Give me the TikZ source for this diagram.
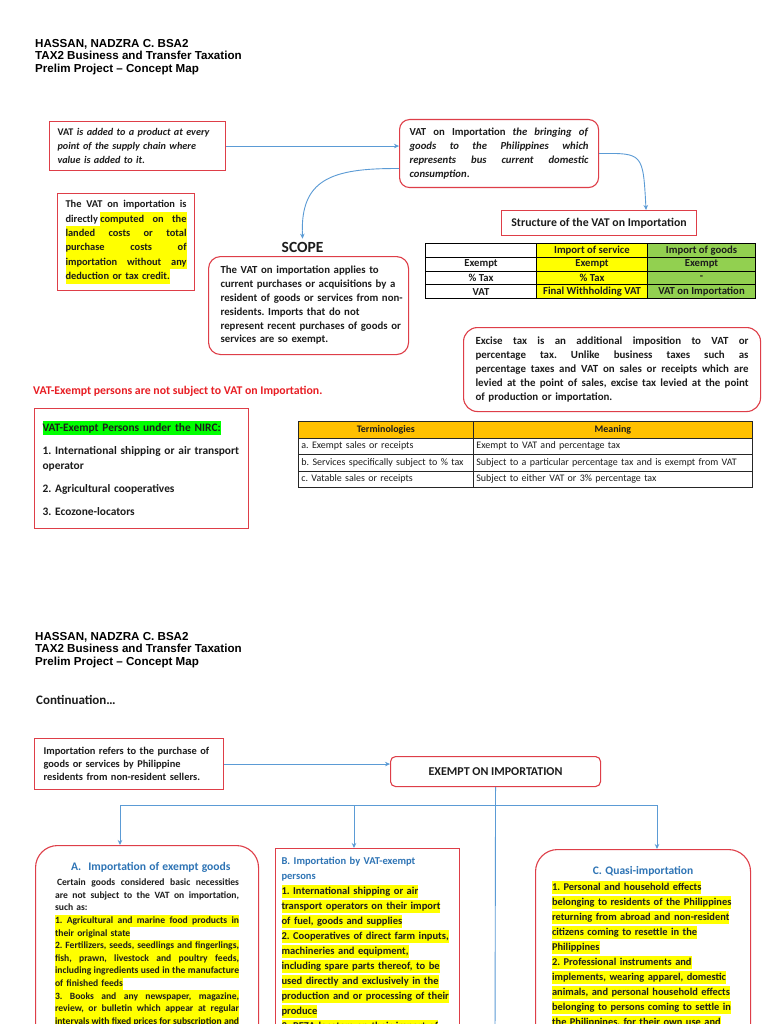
\documentclass[tikz,border=0pt]{standalone}
\usepackage{fontspec}
\setmainfont{Carlito}
\newfontfamily\arialfont{Liberation Sans}
\usetikzlibrary{arrows.meta,positioning}
\frenchspacing

\definecolor{bordred}{RGB}{222,62,72}
\definecolor{lnblue}{RGB}{91,155,213}
\definecolor{ttlblue}{RGB}{46,116,181}
\definecolor{hlyel}{RGB}{255,255,0}
\definecolor{hlgrn}{RGB}{0,255,0}
\definecolor{tabgrn}{RGB}{146,208,80}
\definecolor{taborg}{RGB}{255,192,0}
\definecolor{notered}{RGB}{232,30,36}
\definecolor{txt}{RGB}{28,28,28}

% justified line, highlighted lines
\newcommand{\jl}[1]{{\spaceskip=0.226em plus 1fil minus 0.06em\makebox[\hsize][s]{#1}}}
\newcommand{\hly}[1]{{\setlength{\fboxsep}{0pt}\colorbox{hlyel}{\strut#1}}}
\newcommand{\hlyj}[1]{\hly{\jl{#1}}}
\newcommand{\hlys}[1]{{\setlength{\fboxsep}{0pt}\colorbox{hlyel}{\rule[-3.4pt]{0pt}{13pt}#1}}}
\newcommand{\hlg}[1]{{\setlength{\fboxsep}{0pt}\colorbox{hlgrn}{\rule[-3.6pt]{0pt}{14pt}#1}}}
\newsavebox{\prebox}
\newlength{\prelen}
\newcommand{\hlrest}[2]{{\spaceskip=0.226em plus 1fil minus 0.06em\sbox{\prebox}{#1\ }\setlength{\prelen}{\wd\prebox}\usebox{\prebox}\hly{\makebox[\dimexpr\hsize-\prelen\relax][s]{#2}}}}

\begin{document}
\begin{tikzpicture}[x=1pt,y=-1pt,>={Stealth[length=5pt,width=4.5pt]}]
\tikzstyle{body}=[font=\bfseries\fontsize{10.8}{14}\selectfont]
\tikzstyle{redbox}=[draw=bordred,line width=1.1pt,anchor=north west,align=left,text=txt]
\tikzstyle{rbox}=[redbox,rounded corners=10pt]
\tikzstyle{hdr}=[anchor=north west,inner sep=0pt,align=left,font=\arialfont\bfseries\fontsize{11.6}{12.7}\selectfont]
\tikzstyle{conn}=[draw=lnblue,line width=0.9pt]
\tikzstyle{tcell}=[draw=black,line width=1pt,anchor=north west,inner sep=0pt,minimum height=13.75pt,text=txt,font=\bfseries\fontsize{10.7}{12}\selectfont]
\tikzstyle{term}=[draw=black!85,line width=0.8pt,anchor=north west,inner xsep=3pt,inner ysep=0pt,minimum height=16.5pt,text=txt,font=\fontsize{10}{12}\selectfont]

\useasboundingbox (0,0) rectangle (768,1024);
\fill[white] (0,0) rectangle (768,1024);
\clip (0,0) rectangle (768,1024);

% ---- first page
\node[hdr] (hdra) at (35,38.8) {HASSAN, NADZRA C. BSA2\\TAX2 Business and Transfer Taxation\\Prelim Project – Concept Map};

\node[redbox,text width=160pt,inner xsep=8pt,minimum height=49pt,font=\bfseries\fontsize{10.2}{14}\selectfont] (vatdef) at (49,121)
  {VAT \textit{is added to a product at every}\\\textit{point of the supply chain where}\\\textit{value is added to it}.};
\node[rbox,text width=179pt,inner xsep=10pt,minimum height=68pt,font=\bfseries\fontsize{10.7}{14.3}\selectfont] (vatimp) at (399,119)
  {\jl{VAT on Importation \textit{the bringing of}}\\\jl{\textit{goods to the Philippines which}}\\\jl{\textit{represents bus current domestic}}\\\textit{consumption}.};
\node[redbox,text width=121pt,inner xsep=8pt,minimum height=97pt,font=\bfseries\fontsize{10.4}{14.3}\selectfont] (landed) at (57,193)
  {\jl{The VAT on importation is}\\\hlrest{directly}{computed on the}\\\hlyj{landed costs or total}\\\hlyj{purchase costs of}\\\hlyj{importation without any}\\\hly{deduction or tax credit.}};

\node[rbox,text width=184pt,inner xsep=8pt,minimum height=98pt,rounded corners=12pt,font=\bfseries\fontsize{10.8}{13.8}\selectfont] (scope) at (208,256)
  {\mbox{\hspace*{4pt}The VAT on importation applies to}\\\mbox{\hspace*{4pt}current purchases or acquisitions by a}\\\mbox{\hspace*{4pt}resident of goods or services from non-}\\\mbox{\hspace*{4pt}residents. Imports that do not}\\\mbox{\hspace*{4pt}represent recent purchases of goods or}\\\mbox{\hspace*{4pt}services are so exempt.}};
\node[font=\bfseries\fontsize{15.5}{18}\selectfont,text=txt,above=0pt of scope,xshift=-6pt] (scopettl) {SCOPE};

\node[redbox,font=\bfseries\fontsize{11.8}{13}\selectfont,minimum width=195pt,minimum height=25pt,align=center,inner sep=0pt] (struct) at (501,210) {Structure of the VAT on Importation};

% structure table
\node[tcell,minimum width=111pt] (th0) at (425,243) {};
\node[tcell,minimum width=111pt,fill=hlyel] (th1) at (536,243) {Import of service};
\node[tcell,minimum width=108pt,fill=tabgrn] (th2) at (647,243) {Import of goods};
\node[tcell,minimum width=111pt] (ta0) at (425,256.75) {Exempt};
\node[tcell,minimum width=111pt,fill=hlyel] (ta1) at (536,256.75) {Exempt};
\node[tcell,minimum width=108pt,fill=tabgrn] (ta2) at (647,256.75) {Exempt};
\node[tcell,minimum width=111pt] (tb0) at (425,270.5) {\% Tax};
\node[tcell,minimum width=111pt,fill=hlyel] (tb1) at (536,270.5) {\% Tax};
\node[tcell,minimum width=108pt,fill=tabgrn] (tb2) at (647,270.5) {-};
\node[tcell,minimum width=111pt] (tc0) at (425,284.25) {VAT};
\node[tcell,minimum width=111pt,fill=hlyel] (tc1) at (536,284.25) {Final Withholding VAT};
\node[tcell,minimum width=108pt,fill=tabgrn] (tc2) at (647,284.25) {VAT on Importation};

\node[rbox,text width=273pt,inner xsep=12pt,minimum height=84pt,rounded corners=14pt,font=\bfseries\fontsize{10.9}{14}\selectfont] (excise) at (463,327)
  {\jl{Excise tax is an additional imposition to VAT or}\\\jl{percentage tax. Unlike business taxes such as}\\\jl{percentage taxes and VAT on sales or receipts which are}\\\jl{levied at the point of sales, excise tax levied at the point}\\of production or importation.};

\node[anchor=base west,inner sep=0pt,text=notered,font=\bfseries\fontsize{11.8}{14}\selectfont] (exnote) at (33,394) {VAT-Exempt persons are not subject to VAT on Importation.};

\node[redbox,text width=204pt,inner xsep=5pt,minimum height=120pt,font=\bfseries\fontsize{11.4}{15}\selectfont] (nirc) at (34,408)
  {\hspace*{3pt}\hlg{VAT-Exempt Persons under the NIRC:}\\[8pt]\mbox{\hspace*{3pt}1. International shipping or air transport}\\\hspace*{3pt}operator\\[8pt]\hspace*{3pt}2. Agricultural cooperatives\\[8pt]\hspace*{3pt}3. Ecozone-locators};

% terminology table
\node[term,text width=169pt,align=center,fill=taborg,font=\bfseries\fontsize{10}{12}\selectfont] (termh) at (298,421) {Terminologies};
\node[term,text width=273pt,align=center,fill=taborg,font=\bfseries\fontsize{10}{12}\selectfont] (meanh) at (473,421) {Meaning};
\node[term,text width=169pt,align=left] (terma) at (298,437.5) {a. Exempt sales or receipts};
\node[term,text width=273pt,align=left] (meana) at (473,437.5) {Exempt to VAT and percentage tax};
\node[term,text width=169pt,align=left] (termb) at (298,454) {b. Services specifically subject to \% tax};
\node[term,text width=273pt,align=left] (meanb) at (473,454) {Subject to a particular percentage tax and is exempt from VAT};
\node[term,text width=169pt,align=left] (termc) at (298,470.5) {c. Vatable sales or receipts};
\node[term,text width=273pt,align=left] (meanc) at (473,470.5) {Subject to either VAT or 3\% percentage tax};

\draw[conn,->] (vatdef.east) -- (vatdef.east -| vatimp.west);
\draw[conn,->] ([yshift=-15pt]vatimp.west) .. controls (330,168) and (300,180) .. (scopettl.north);
\draw[conn,->] (vatimp.east) .. controls (643,153) .. ([xshift=47pt]struct.north);

% ---- second page
\node[hdr] (hdrb) at (35,631.8) {HASSAN, NADZRA C. BSA2\\TAX2 Business and Transfer Taxation\\Prelim Project – Concept Map};
\node[anchor=base west,inner sep=0pt,text=txt,font=\bfseries\fontsize{13}{15}\selectfont] (contd) at (36,704.5) {Continuation…};

\node[redbox,text width=171pt,inner xsep=9pt,minimum height=51pt,font=\bfseries\fontsize{10.4}{13.3}\selectfont] (impdef) at (34,738)
  {Importation refers to the purchase of\\goods or services by Philippine\\residents from non-resident sellers.};
\node[rbox,rounded corners=5pt,font=\bfseries\fontsize{12}{14}\selectfont,minimum width=210pt,minimum height=30pt,align=center,inner sep=0pt] (exempt) at (390,756) {EXEMPT ON IMPORTATION};

\node[redbox,rounded corners=22pt,text width=184pt,inner xsep=19.5pt,inner ysep=17pt,font=\bfseries\fontsize{9.6}{12.6}\selectfont] (boxa) at (35,845)
  {{\color{ttlblue}\fontsize{11.6}{13}\selectfont\hspace{16pt}A.\hspace{7pt}Importation of exempt goods}\\[2.4pt]
   \jl{\hspace{2pt}Certain goods considered basic necessities}\\
   \jl{are not subject to the VAT on importation,}\\
   such as:\\
   \hlyj{1. Agricultural and marine food products in}\\
   \hly{their original state}\\
   \hlyj{2. Fertilizers, seeds, seedlings and fingerlings,}\\
   \hlyj{fish, prawn, livestock and poultry feeds,}\\
   \hlyj{including ingredients used in the manufacture}\\
   \hly{of finished feeds}\\
   \hlyj{3. Books and any newspaper, magazine,}\\
   \hlyj{review, or bulletin which appear at regular}\\
   \hlyj{intervals with fixed prices for subscription and}\\
   \rule{0pt}{40pt}};

\node[redbox,text width=172pt,inner xsep=6pt,inner ysep=8.5pt,font=\bfseries\fontsize{10.5}{15}\selectfont] (boxb) at (275,848)
  {\textcolor{ttlblue}{B. Importation by VAT-exempt}\\
   \textcolor{ttlblue}{persons}\\
   \hlys{1. International shipping or air}\\
   \hlys{transport operators on their import}\\
   \hlys{of fuel, goods and supplies}\\
   \hlys{2. Cooperatives of direct farm inputs,}\\
   \hlys{machineries and equipment,}\\
   \hlys{including spare parts thereof, to be}\\
   \hlys{used directly and exclusively in the}\\
   \hlys{production and or processing of their}\\
   \hlys{produce}\\
   \hlys{3. PEZA locators on their import of}\\
   \rule{0pt}{40pt}};

\node[redbox,rounded corners=22pt,text width=182pt,inner xsep=16.5pt,inner ysep=17pt,font=\bfseries\fontsize{10.4}{15}\selectfont] (boxc) at (535,849)
  {\makebox[\hsize]{\color{ttlblue}\fontsize{11.5}{13}\selectfont C. Quasi-importation}\\[1pt]
   \hlys{1. Personal and household effects}\\
   \hlys{belonging to residents of the Philippines}\\
   \hlys{returning from abroad and non-resident}\\
   \hlys{citizens coming to resettle in the}\\
   \hlys{Philippines}\\
   \hlys{2. Professional instruments and}\\
   \hlys{implements, wearing apparel, domestic}\\
   \hlys{animals, and personal household effects}\\
   \hlys{belonging to persons coming to settle in}\\
   \hlys{the Philippines, for their own use and}\\
   \rule{0pt}{40pt}};

\coordinate (tail) at (495,1040);
\coordinate (bra) at (120,805);
\coordinate (brb) at (354,805);
\coordinate (brc) at (657,805);
\draw[conn,->] (impdef.east) -- (impdef.east -| exempt.west);
\draw[conn] (exempt.south) -- (tail);
\draw[conn] (bra) -- (brc);
\draw[conn,->] (bra) -- (bra |- boxa.north);
\draw[conn,->] (brb) -- (brb |- boxb.north);
\draw[conn,->] (brc) -- (brc |- boxc.north);
\end{tikzpicture}
\end{document}
